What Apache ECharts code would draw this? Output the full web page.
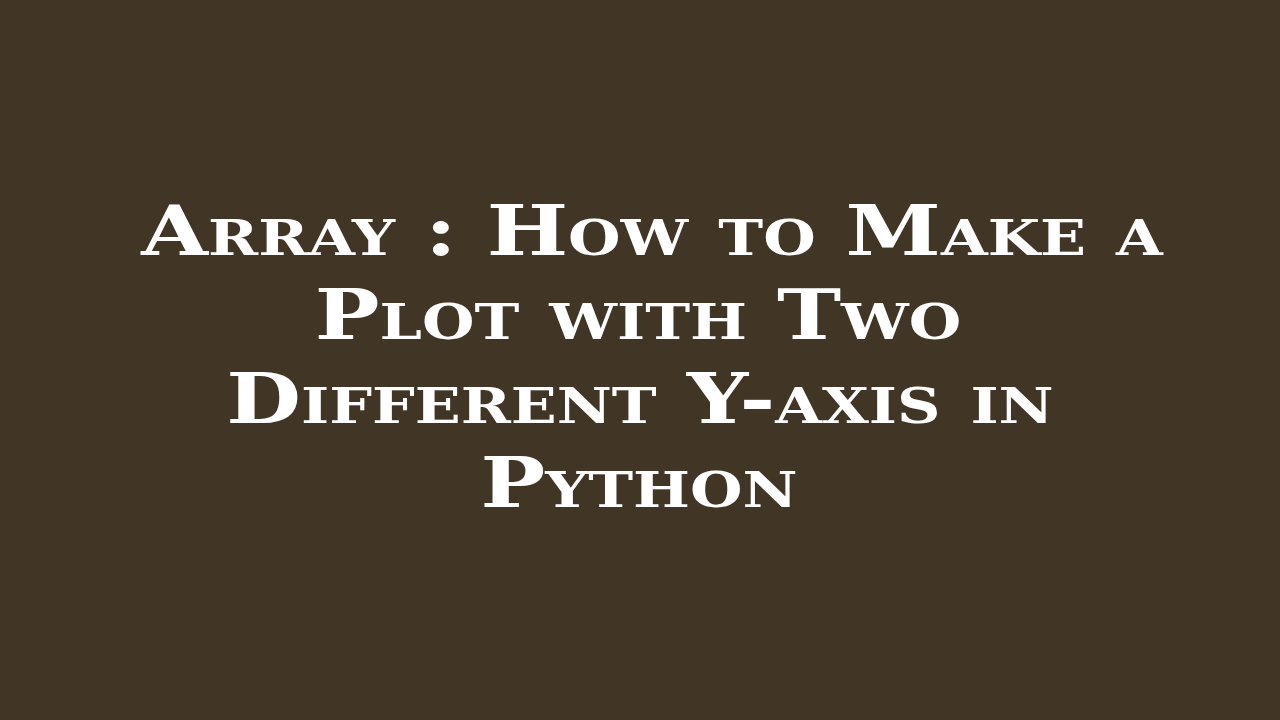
<!DOCTYPE html>
<html style="height: 100%" lang="en">
<head>
    <meta charset="UTF-8">
    <title>Array : How to Make a Plot with Two Different Y-axis in Python</title>
</head>
<body style="height: 100%; margin: 0; background: #413526">
<div id="main1" style="width: 1280px; height: 720px"></div>

<script src="https://cdn.jsdelivr.net/npm/echarts@6/dist/echarts.min.js"></script>
<script type="text/javascript">

    // title card text, one entry per line
    var titleLines = [
        'Array : How to Make a',
        'Plot with Two',
        'Different Y-axis in',
        'Python'
    ];
    var lineCenters = [237, 321, 405, 489];
    var lineX = [652, 638, 640, 639];

    var myChart1 = echarts.init(document.getElementById('main1'));

    // copperplate-like look: small caps, stretched a bit horizontally
    var graphics = titleLines.map(function (t, i) {
        return {
            type: 'text',
            x: lineX[i],
            y: lineCenters[i],
            scaleX: 1.23,
            style: {
                text: t,
                x: 0,
                y: 0,
                fill: '#ffffff',
                align: 'center',
                verticalAlign: 'middle',
                fontFamily: 'DejaVu Serif',
                fontWeight: 'bold',
                fontStyle: 'small-caps',
                fontSize: 70
            }
        };
    });

    var option = {
        backgroundColor: '#413526',
        graphic: graphics
    };

    myChart1.setOption(option);

</script>
</body>
</html>
